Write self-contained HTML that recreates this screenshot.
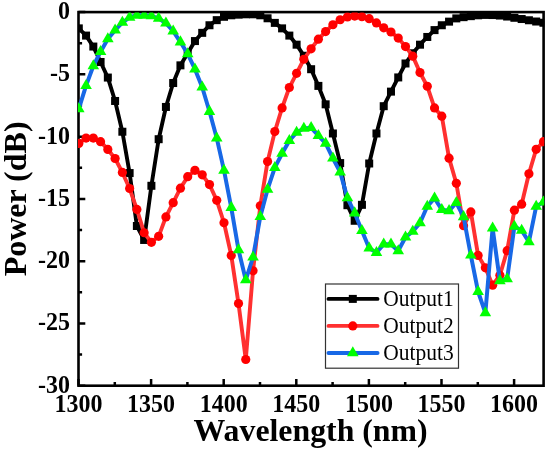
<!DOCTYPE html><html><head><meta charset="utf-8"><title>Power vs Wavelength</title><style>html,body{margin:0;padding:0;background:#fff;}svg{display:block;}text{font-family:"Liberation Serif","Times New Roman",serif;}</style></head><body>
<svg width="550" height="451" viewBox="0 0 550 451">
<rect width="550" height="451" fill="#fff"/>
<rect x="78.5" y="12.1" width="465.1" height="373.6" fill="none" stroke="#000" stroke-width="2.6"/>
<path d="M78.5 385.7V378.9M114.8 385.7V382.1M151.1 385.7V378.9M187.4 385.7V382.1M223.7 385.7V378.9M260 385.7V382.1M296.3 385.7V378.9M332.6 385.7V382.1M368.9 385.7V378.9M405.2 385.7V382.1M441.5 385.7V378.9M477.8 385.7V382.1M514.1 385.7V378.9M78.5 12.1H85.3M78.5 43.23H82.1M78.5 74.37H85.3M78.5 105.5H82.1M78.5 136.63H85.3M78.5 167.77H82.1M78.5 198.9H85.3M78.5 230.03H82.1M78.5 261.17H85.3M78.5 292.3H82.1M78.5 323.43H85.3M78.5 354.57H82.1M78.5 385.7H85.3" stroke="#000" stroke-width="2.5" fill="none"/>
<defs><clipPath id="pc"><rect x="78.0" y="12.6" width="466.2" height="372.6"/></clipPath></defs>
<g clip-path="url(#pc)">
<polyline points="78.8,28.37 86.06,35.59 93.32,46.55 100.58,61.99 107.84,77.56 115.1,100.97 122.36,131.73 129.62,173.07 136.88,226 144.14,239.95 151.4,185.78 158.66,139.2 165.92,106.95 173.18,83.04 180.44,65.35 187.7,53.27 194.96,41.07 202.22,32.85 209.48,25.25 216.74,20.15 224,16.79 231.26,15.29 238.52,14.67 245.78,14.29 253.04,14.29 260.3,15.29 267.56,18.28 274.82,22.89 282.08,28.37 289.34,35.59 296.6,44.68 303.86,55.76 311.12,69.21 318.38,85.9 325.64,104.33 332.9,133.47 340.16,163.11 347.42,205.2 354.68,220.77 361.94,204.83 369.2,163.49 376.46,133.47 383.72,106.2 390.98,91.63 398.24,77.43 405.5,63.49 412.76,53.27 420.02,44.68 427.28,36.96 434.54,30.11 441.8,25.25 449.06,21.64 456.32,18.4 463.58,17.16 470.84,16.16 478.1,15.29 485.36,14.92 492.62,15.04 499.88,15.54 507.14,16.54 514.4,17.78 521.66,19.03 528.92,20.27 536.18,21.52 543.44,22.76" fill="none" stroke="#000" stroke-width="3.9" stroke-linejoin="round" stroke-linecap="round"/>
<g fill="#000"><rect x="74.8" y="24.37" width="8.0" height="8.0"/><rect x="82.06" y="31.59" width="8.0" height="8.0"/><rect x="89.32" y="42.55" width="8.0" height="8.0"/><rect x="96.58" y="57.99" width="8.0" height="8.0"/><rect x="103.84" y="73.56" width="8.0" height="8.0"/><rect x="111.1" y="96.97" width="8.0" height="8.0"/><rect x="118.36" y="127.73" width="8.0" height="8.0"/><rect x="125.62" y="169.07" width="8.0" height="8.0"/><rect x="132.88" y="222" width="8.0" height="8.0"/><rect x="140.14" y="235.95" width="8.0" height="8.0"/><rect x="147.4" y="181.78" width="8.0" height="8.0"/><rect x="154.66" y="135.2" width="8.0" height="8.0"/><rect x="161.92" y="102.95" width="8.0" height="8.0"/><rect x="169.18" y="79.04" width="8.0" height="8.0"/><rect x="176.44" y="61.35" width="8.0" height="8.0"/><rect x="183.7" y="49.27" width="8.0" height="8.0"/><rect x="190.96" y="37.07" width="8.0" height="8.0"/><rect x="198.22" y="28.85" width="8.0" height="8.0"/><rect x="205.48" y="21.25" width="8.0" height="8.0"/><rect x="212.74" y="16.15" width="8.0" height="8.0"/><rect x="220" y="12.79" width="8.0" height="8.0"/><rect x="227.26" y="11.29" width="8.0" height="8.0"/><rect x="234.52" y="10.67" width="8.0" height="8.0"/><rect x="241.78" y="10.29" width="8.0" height="8.0"/><rect x="249.04" y="10.29" width="8.0" height="8.0"/><rect x="256.3" y="11.29" width="8.0" height="8.0"/><rect x="263.56" y="14.28" width="8.0" height="8.0"/><rect x="270.82" y="18.89" width="8.0" height="8.0"/><rect x="278.08" y="24.37" width="8.0" height="8.0"/><rect x="285.34" y="31.59" width="8.0" height="8.0"/><rect x="292.6" y="40.68" width="8.0" height="8.0"/><rect x="299.86" y="51.76" width="8.0" height="8.0"/><rect x="307.12" y="65.21" width="8.0" height="8.0"/><rect x="314.38" y="81.9" width="8.0" height="8.0"/><rect x="321.64" y="100.33" width="8.0" height="8.0"/><rect x="328.9" y="129.47" width="8.0" height="8.0"/><rect x="336.16" y="159.11" width="8.0" height="8.0"/><rect x="343.42" y="201.2" width="8.0" height="8.0"/><rect x="350.68" y="216.77" width="8.0" height="8.0"/><rect x="357.94" y="200.83" width="8.0" height="8.0"/><rect x="365.2" y="159.49" width="8.0" height="8.0"/><rect x="372.46" y="129.47" width="8.0" height="8.0"/><rect x="379.72" y="102.2" width="8.0" height="8.0"/><rect x="386.98" y="87.63" width="8.0" height="8.0"/><rect x="394.24" y="73.43" width="8.0" height="8.0"/><rect x="401.5" y="59.49" width="8.0" height="8.0"/><rect x="408.76" y="49.27" width="8.0" height="8.0"/><rect x="416.02" y="40.68" width="8.0" height="8.0"/><rect x="423.28" y="32.96" width="8.0" height="8.0"/><rect x="430.54" y="26.11" width="8.0" height="8.0"/><rect x="437.8" y="21.25" width="8.0" height="8.0"/><rect x="445.06" y="17.64" width="8.0" height="8.0"/><rect x="452.32" y="14.4" width="8.0" height="8.0"/><rect x="459.58" y="13.16" width="8.0" height="8.0"/><rect x="466.84" y="12.16" width="8.0" height="8.0"/><rect x="474.1" y="11.29" width="8.0" height="8.0"/><rect x="481.36" y="10.92" width="8.0" height="8.0"/><rect x="488.62" y="11.04" width="8.0" height="8.0"/><rect x="495.88" y="11.54" width="8.0" height="8.0"/><rect x="503.14" y="12.54" width="8.0" height="8.0"/><rect x="510.4" y="13.78" width="8.0" height="8.0"/><rect x="517.66" y="15.03" width="8.0" height="8.0"/><rect x="524.92" y="16.27" width="8.0" height="8.0"/><rect x="532.18" y="17.52" width="8.0" height="8.0"/><rect x="539.44" y="18.76" width="8.0" height="8.0"/></g>
<polyline points="78.8,143.44 86.06,138.08 93.32,138.08 100.58,141.69 107.84,149.41 115.1,158.5 122.36,172.45 129.62,188.52 136.88,209.44 144.14,232.73 151.4,242.31 158.66,236.34 165.92,216.91 173.18,202.71 180.44,188.14 187.7,176.69 194.96,170.33 202.22,174.82 209.48,184.53 216.74,200.35 224,222.76 231.26,255.39 238.52,303.59 245.78,359.5 253.04,270.83 260.3,205.83 267.56,161.62 274.82,131.6 282.08,107.94 289.34,87.52 296.6,73.32 303.86,59.25 311.12,48.79 318.38,39.2 325.64,31.6 332.9,24.76 340.16,19.77 347.42,16.91 354.68,16.04 361.94,16.66 369.2,18.65 376.46,22.89 383.72,27.87 390.98,31.98 398.24,38.08 405.5,46.55 412.76,56.14 420.02,72.58 427.28,86.27 434.54,107.94 441.8,116.16 449.06,158.13 456.32,183.29 463.58,225.75 470.84,211.93 478.1,255.39 485.36,267.84 492.62,285.15 499.88,275.19 507.14,250.66 514.4,210.19 521.66,204.21 528.92,173.82 536.18,149.29 543.44,141.69" fill="none" stroke="#ff3030" stroke-width="3.9" stroke-linejoin="round" stroke-linecap="round"/>
<g fill="#ff0000"><circle cx="78.8" cy="143.44" r="4.6"/><circle cx="86.06" cy="138.08" r="4.6"/><circle cx="93.32" cy="138.08" r="4.6"/><circle cx="100.58" cy="141.69" r="4.6"/><circle cx="107.84" cy="149.41" r="4.6"/><circle cx="115.1" cy="158.5" r="4.6"/><circle cx="122.36" cy="172.45" r="4.6"/><circle cx="129.62" cy="188.52" r="4.6"/><circle cx="136.88" cy="209.44" r="4.6"/><circle cx="144.14" cy="232.73" r="4.6"/><circle cx="151.4" cy="242.31" r="4.6"/><circle cx="158.66" cy="236.34" r="4.6"/><circle cx="165.92" cy="216.91" r="4.6"/><circle cx="173.18" cy="202.71" r="4.6"/><circle cx="180.44" cy="188.14" r="4.6"/><circle cx="187.7" cy="176.69" r="4.6"/><circle cx="194.96" cy="170.33" r="4.6"/><circle cx="202.22" cy="174.82" r="4.6"/><circle cx="209.48" cy="184.53" r="4.6"/><circle cx="216.74" cy="200.35" r="4.6"/><circle cx="224" cy="222.76" r="4.6"/><circle cx="231.26" cy="255.39" r="4.6"/><circle cx="238.52" cy="303.59" r="4.6"/><circle cx="245.78" cy="359.5" r="4.6"/><circle cx="253.04" cy="270.83" r="4.6"/><circle cx="260.3" cy="205.83" r="4.6"/><circle cx="267.56" cy="161.62" r="4.6"/><circle cx="274.82" cy="131.6" r="4.6"/><circle cx="282.08" cy="107.94" r="4.6"/><circle cx="289.34" cy="87.52" r="4.6"/><circle cx="296.6" cy="73.32" r="4.6"/><circle cx="303.86" cy="59.25" r="4.6"/><circle cx="311.12" cy="48.79" r="4.6"/><circle cx="318.38" cy="39.2" r="4.6"/><circle cx="325.64" cy="31.6" r="4.6"/><circle cx="332.9" cy="24.76" r="4.6"/><circle cx="340.16" cy="19.77" r="4.6"/><circle cx="347.42" cy="16.91" r="4.6"/><circle cx="354.68" cy="16.04" r="4.6"/><circle cx="361.94" cy="16.66" r="4.6"/><circle cx="369.2" cy="18.65" r="4.6"/><circle cx="376.46" cy="22.89" r="4.6"/><circle cx="383.72" cy="27.87" r="4.6"/><circle cx="390.98" cy="31.98" r="4.6"/><circle cx="398.24" cy="38.08" r="4.6"/><circle cx="405.5" cy="46.55" r="4.6"/><circle cx="412.76" cy="56.14" r="4.6"/><circle cx="420.02" cy="72.58" r="4.6"/><circle cx="427.28" cy="86.27" r="4.6"/><circle cx="434.54" cy="107.94" r="4.6"/><circle cx="441.8" cy="116.16" r="4.6"/><circle cx="449.06" cy="158.13" r="4.6"/><circle cx="456.32" cy="183.29" r="4.6"/><circle cx="463.58" cy="225.75" r="4.6"/><circle cx="470.84" cy="211.93" r="4.6"/><circle cx="478.1" cy="255.39" r="4.6"/><circle cx="485.36" cy="267.84" r="4.6"/><circle cx="492.62" cy="285.15" r="4.6"/><circle cx="499.88" cy="275.19" r="4.6"/><circle cx="507.14" cy="250.66" r="4.6"/><circle cx="514.4" cy="210.19" r="4.6"/><circle cx="521.66" cy="204.21" r="4.6"/><circle cx="528.92" cy="173.82" r="4.6"/><circle cx="536.18" cy="149.29" r="4.6"/><circle cx="543.44" cy="141.69" r="4.6"/></g>
<polyline points="78.8,108.94 86.06,85.65 93.32,65.98 100.58,51.65 107.84,38.95 115.1,30.11 122.36,22.51 129.62,17.28 136.88,15.29 144.14,15.29 151.4,15.91 158.66,18.28 165.92,23.26 173.18,31.11 180.44,42.07 187.7,53.9 194.96,69.21 202.22,87.27 209.48,111.55 216.74,138.08 224,170.33 231.26,207.57 238.52,249.91 245.78,279.92 253.04,257.26 260.3,216.66 267.56,189.39 274.82,167.59 282.08,153.52 289.34,140.7 296.6,132.48 303.86,128.37 311.12,127.62 318.38,135.59 325.64,143.44 332.9,158.25 340.16,172.2 347.42,197.86 354.68,213.05 361.94,230.73 369.2,248.17 376.46,252.65 383.72,244.18 390.98,244.18 398.24,250.91 405.5,237.21 412.76,231.36 420.02,223.01 427.28,206.32 434.54,198.11 441.8,209.69 449.06,210.81 456.32,202.71 463.58,216.79 470.84,255.27 478.1,291.75 485.36,312.93 492.62,228.24 499.88,280.8 507.14,278.93 514.4,226.5 521.66,230.48 528.92,241.94 536.18,206.45 543.44,202.09" fill="none" stroke="#1868e6" stroke-width="4.0" stroke-linejoin="round" stroke-linecap="round"/>
<g fill="#00ff00"><polygon points="78.8,102.24 73,112.29 84.6,112.29"/><polygon points="86.06,78.95 80.26,89 91.86,89"/><polygon points="93.32,59.28 87.52,69.32 99.12,69.32"/><polygon points="100.58,44.96 94.78,55 106.38,55"/><polygon points="107.84,32.25 102.04,42.3 113.64,42.3"/><polygon points="115.1,23.41 109.3,33.46 120.9,33.46"/><polygon points="122.36,15.82 116.56,25.86 128.16,25.86"/><polygon points="129.62,10.59 123.82,20.63 135.42,20.63"/><polygon points="136.88,8.59 131.08,18.64 142.68,18.64"/><polygon points="144.14,8.59 138.34,18.64 149.94,18.64"/><polygon points="151.4,9.22 145.6,19.26 157.2,19.26"/><polygon points="158.66,11.58 152.86,21.63 164.46,21.63"/><polygon points="165.92,16.56 160.12,26.61 171.72,26.61"/><polygon points="173.18,24.41 167.38,34.46 178.98,34.46"/><polygon points="180.44,35.37 174.64,45.41 186.24,45.41"/><polygon points="187.7,47.2 181.9,57.24 193.5,57.24"/><polygon points="194.96,62.52 189.16,72.56 200.76,72.56"/><polygon points="202.22,80.57 196.42,90.62 208.02,90.62"/><polygon points="209.48,104.86 203.68,114.9 215.28,114.9"/><polygon points="216.74,131.38 210.94,141.43 222.54,141.43"/><polygon points="224,163.64 218.2,173.68 229.8,173.68"/><polygon points="231.26,200.87 225.46,210.92 237.06,210.92"/><polygon points="238.52,243.21 232.72,253.26 244.32,253.26"/><polygon points="245.78,273.23 239.98,283.27 251.58,283.27"/><polygon points="253.04,250.56 247.24,260.61 258.84,260.61"/><polygon points="260.3,209.96 254.5,220.01 266.1,220.01"/><polygon points="267.56,182.69 261.76,192.74 273.36,192.74"/><polygon points="274.82,160.9 269.02,170.94 280.62,170.94"/><polygon points="282.08,146.83 276.28,156.87 287.88,156.87"/><polygon points="289.34,134 283.54,144.04 295.14,144.04"/><polygon points="296.6,125.78 290.8,135.83 302.4,135.83"/><polygon points="303.86,121.67 298.06,131.72 309.66,131.72"/><polygon points="311.12,120.92 305.32,130.97 316.92,130.97"/><polygon points="318.38,128.89 312.58,138.94 324.18,138.94"/><polygon points="325.64,136.74 319.84,146.78 331.44,146.78"/><polygon points="332.9,151.56 327.1,161.6 338.7,161.6"/><polygon points="340.16,165.51 334.36,175.55 345.96,175.55"/><polygon points="347.42,191.16 341.62,201.21 353.22,201.21"/><polygon points="354.68,206.35 348.88,216.4 360.48,216.4"/><polygon points="361.94,224.04 356.14,234.08 367.74,234.08"/><polygon points="369.2,241.47 363.4,251.52 375,251.52"/><polygon points="376.46,245.95 370.66,256 382.26,256"/><polygon points="383.72,237.49 377.92,247.53 389.52,247.53"/><polygon points="390.98,237.49 385.18,247.53 396.78,247.53"/><polygon points="398.24,244.21 392.44,254.26 404.04,254.26"/><polygon points="405.5,230.51 399.7,240.56 411.3,240.56"/><polygon points="412.76,224.66 406.96,234.7 418.56,234.7"/><polygon points="420.02,216.32 414.22,226.36 425.82,226.36"/><polygon points="427.28,199.63 421.48,209.67 433.08,209.67"/><polygon points="434.54,191.41 428.74,201.45 440.34,201.45"/><polygon points="441.8,202.99 436,213.04 447.6,213.04"/><polygon points="449.06,204.11 443.26,214.16 454.86,214.16"/><polygon points="456.32,196.02 450.52,206.06 462.12,206.06"/><polygon points="463.58,210.09 457.78,220.13 469.38,220.13"/><polygon points="470.84,248.57 465.04,258.62 476.64,258.62"/><polygon points="478.1,285.06 472.3,295.1 483.9,295.1"/><polygon points="485.36,306.23 479.56,316.27 491.16,316.27"/><polygon points="492.62,221.55 486.82,231.59 498.42,231.59"/><polygon points="499.88,274.1 494.08,284.14 505.68,284.14"/><polygon points="507.14,272.23 501.34,282.28 512.94,282.28"/><polygon points="514.4,219.8 508.6,229.85 520.2,229.85"/><polygon points="521.66,223.79 515.86,233.83 527.46,233.83"/><polygon points="528.92,235.24 523.12,245.29 534.72,245.29"/><polygon points="536.18,199.75 530.38,209.8 541.98,209.8"/><polygon points="543.44,195.39 537.64,205.44 549.24,205.44"/></g>
</g>
<g font-size="24" font-weight="bold" fill="#000"><text transform="translate(78.5,412.2) scale(1,1.03)" text-anchor="middle">1300</text><text transform="translate(151.1,412.2) scale(1,1.03)" text-anchor="middle">1350</text><text transform="translate(223.7,412.2) scale(1,1.03)" text-anchor="middle">1400</text><text transform="translate(296.3,412.2) scale(1,1.03)" text-anchor="middle">1450</text><text transform="translate(368.9,412.2) scale(1,1.03)" text-anchor="middle">1500</text><text transform="translate(441.5,412.2) scale(1,1.03)" text-anchor="middle">1550</text><text transform="translate(514.1,412.2) scale(1,1.03)" text-anchor="middle">1600</text><text transform="translate(70,19.1) scale(1,1.03)" text-anchor="end">0</text><text transform="translate(70,81.37) scale(1,1.03)" text-anchor="end">-5</text><text transform="translate(70,143.63) scale(1,1.03)" text-anchor="end">-10</text><text transform="translate(70,205.9) scale(1,1.03)" text-anchor="end">-15</text><text transform="translate(70,268.17) scale(1,1.03)" text-anchor="end">-20</text><text transform="translate(70,330.43) scale(1,1.03)" text-anchor="end">-25</text><text transform="translate(70,392.7) scale(1,1.03)" text-anchor="end">-30</text></g>
<text x="310.6" y="440.5" text-anchor="middle" font-size="31.8" font-weight="bold">Wavelength (nm)</text>
<text transform="translate(25.7,198.9) rotate(-90)" text-anchor="middle" font-size="32" font-weight="bold">Power (dB)</text>
<rect x="325.5" y="284" width="133" height="84.2" fill="#fff" stroke="#333" stroke-width="1.2"/>
<line x1="328.5" y1="298.9" x2="377.5" y2="298.9" stroke="#000" stroke-width="3.9" stroke-linecap="round"/>
<rect x="348.8" y="294.9" width="8.0" height="8.0" fill="#000"/>
<text transform="translate(383.3,306.1) scale(1,1.1)" font-size="21.5" fill="#000">Output1</text>
<line x1="328.5" y1="325.9" x2="377.5" y2="325.9" stroke="#ff3030" stroke-width="3.9" stroke-linecap="round"/>
<circle cx="352.8" cy="325.9" r="4.6" fill="#ff0000"/>
<text transform="translate(383.3,333.1) scale(1,1.1)" font-size="21.5" fill="#000">Output2</text>
<line x1="328.5" y1="353" x2="377.5" y2="353" stroke="#1868e6" stroke-width="4.0" stroke-linecap="round"/>
<polygon points="352.8,346.3 347,356.35 358.6,356.35" fill="#00ff00"/>
<text transform="translate(383.3,360.2) scale(1,1.1)" font-size="21.5" fill="#000">Output3</text>
</svg></body></html>
